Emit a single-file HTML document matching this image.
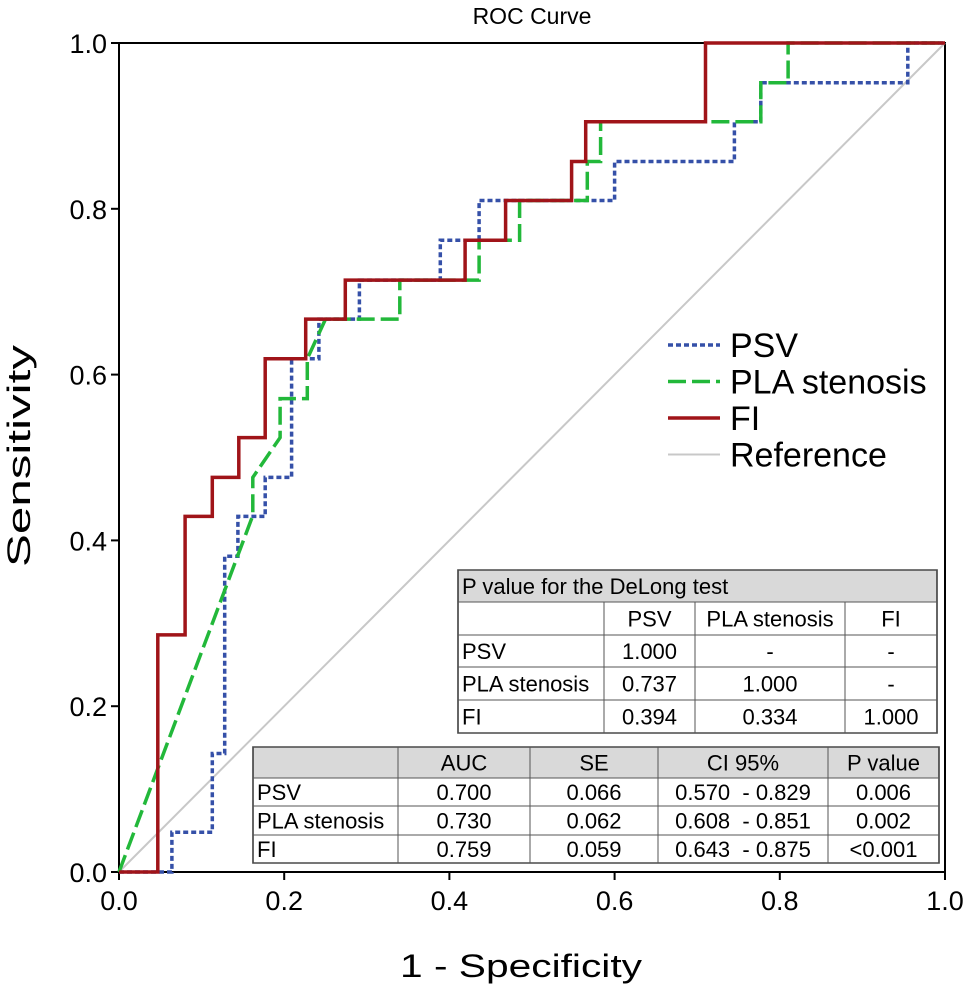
<!DOCTYPE html>
<html><head><meta charset="utf-8"><style>
html,body{margin:0;padding:0;background:#fff;}
svg{display:block;font-family:"Liberation Sans",Arial,sans-serif;}
</style></head><body>
<svg id="chart" width="971" height="988" viewBox="0 0 971 988">
<text x="532" y="24" font-size="23" text-anchor="middle">ROC Curve</text>
<g id="axes"></g>
<g id="series"></g>
<g id="legend"></g>
<g id="tables"></g>
<text x="521" y="977" font-size="32" text-anchor="middle" textLength="242" lengthAdjust="spacingAndGlyphs">1 - Specificity</text>
<text transform="translate(30,456) rotate(-90)" font-size="32" text-anchor="middle" textLength="222" lengthAdjust="spacingAndGlyphs">Sensitivity</text>
</svg>
<script>
const xTicks=[0,0.2,0.4,0.6,0.8,1.0];
const yTicks=[0,0.2,0.4,0.6,0.8,1.0];
const tickLabels=["0.0","0.2","0.4","0.6","0.8","1.0"];
const psvX=[0,0.064,0.064,0.113,0.113,0.128,0.128,0.144,0.144,0.177,0.177,0.209,0.209,0.242,0.242,0.291,0.291,0.389,0.389,0.436,0.436,0.6,0.6,0.745,0.745,0.777,0.777,0.955,0.955,1];
const psvY=[0,0,0.048,0.048,0.143,0.143,0.381,0.381,0.429,0.429,0.476,0.476,0.619,0.619,0.667,0.667,0.714,0.714,0.762,0.762,0.81,0.81,0.857,0.857,0.905,0.905,0.952,0.952,1,1];
const plaX=[0,0.162,0.162,0.195,0.195,0.228,0.228,0.25,0.34,0.34,0.436,0.436,0.485,0.485,0.567,0.567,0.583,0.583,0.777,0.777,0.81,0.81,1];
const plaY=[0,0.43,0.476,0.524,0.571,0.571,0.619,0.667,0.667,0.714,0.714,0.762,0.762,0.81,0.81,0.857,0.857,0.905,0.905,0.952,0.952,1,1];
const fiX=[0,0.047,0.047,0.08,0.08,0.113,0.113,0.145,0.145,0.177,0.177,0.226,0.226,0.274,0.274,0.419,0.419,0.468,0.468,0.548,0.548,0.565,0.565,0.71,0.71,1];
const fiY=[0,0,0.286,0.286,0.429,0.429,0.476,0.476,0.524,0.524,0.619,0.619,0.667,0.667,0.714,0.714,0.762,0.762,0.81,0.81,0.857,0.857,0.905,0.905,1,1];
const refX=[0,1], refY=[0,1];
const legendLabels=["PSV","PLA stenosis","FI","Reference"];
const t1Rows=[["","PSV","PLA stenosis","FI"],["PSV","1.000","-","-"],["PLA stenosis","0.737","1.000","-"],["FI","0.394","0.334","1.000"]];
const t2Rows=[["","AUC","SE","CI 95%","P value"],["PSV","0.700","0.066","0.570  - 0.829","0.006"],["PLA stenosis","0.730","0.062","0.608  - 0.851","0.002"],["FI","0.759","0.059","0.643  - 0.875","<0.001"]];

const NS="http://www.w3.org/2000/svg";
const X0=119,X1=945,Y0=872,Y1=43;
const sx=v=>X0+(X1-X0)*v, sy=v=>Y0-(Y0-Y1)*v;
function mk(tag,attrs,parent,text){const e=document.createElementNS(NS,tag);for(const k in attrs)e.setAttribute(k,attrs[k]);if(text!==undefined)e.textContent=text;parent.appendChild(e);return e;}
const axes=document.getElementById('axes');
let fr=mk('rect',{x:X0,y:Y1,width:X1-X0,height:Y0-Y1,fill:'none',stroke:'#000','stroke-width':2},axes);


xTicks.forEach((v,i)=>{
 let l=mk('line',{x1:sx(v),x2:sx(v),y1:Y0,y2:Y0+8,stroke:'#000','stroke-width':2},axes);
 
 
 let t=mk('text',{x:sx(v),y:Y0+38,'font-size':27,'text-anchor':'middle'},axes,tickLabels[i]);
 
 
});
yTicks.forEach((v,i)=>{
 let l=mk('line',{x1:X0-8,x2:X0,y1:sy(v),y2:sy(v),stroke:'#000','stroke-width':2},axes);
 
 
 let t=mk('text',{x:X0-12,y:sy(v)+10,'font-size':27,'text-anchor':'end'},axes,tickLabels[i]);
 
 
});
const ser=document.getElementById('series');
function line(xs,ys,st,name){
 const d=xs.map((x,i)=>(i?'L':'M')+sx(x).toFixed(1)+' '+sy(ys[i]).toFixed(1)).join(' ');
 const p=mk('path',Object.assign({d:d,fill:'none'},st),ser);
 
 
}
const styles=[{stroke:'#3550a8','stroke-width':3.5,'stroke-dasharray':'5 3'},{stroke:'#22b83a','stroke-width':3.5,'stroke-dasharray':'18 6'},{stroke:'#a01419','stroke-width':3.5},{stroke:'#c8c8c8','stroke-width':2}];
line(refX,refY,styles[3],'reference-line');
line(psvX,psvY,styles[0],'psv-curve');
line(plaX,plaY,styles[1],'pla-stenosis-curve');
line(fiX,fiY,styles[2],'fi-curve');
const lg=document.getElementById('legend');
legendLabels.forEach((lab,i)=>{
 const y=345+i*36.5;
 let l=mk('line',Object.assign({x1:668,x2:720,y1:y,y2:y},styles[i]),lg);
 
 
 let t=mk('text',{x:730,y:y+12,'font-size':34},lg,lab);
 
 
});
const tg=document.getElementById('tables');
function table(cols,rows,data,title,name){
 const g=mk('g',{},tg);
 
 
 const x0=cols[0],x1=cols[cols.length-1];
 mk('rect',{x:x0,y:rows[0],width:x1-x0,height:rows[1]-rows[0],fill:'#d9d9d9'},g);
 mk('rect',{x:x0,y:rows[0],width:x1-x0,height:rows[rows.length-1]-rows[0],fill:'none',stroke:'#333','stroke-width':1.5},g);
 rows.forEach(r=>mk('line',{x1:x0,x2:x1,y1:r,y2:r,stroke:'#555','stroke-width':1},g));
 const start=title?1:0;
 cols.forEach((c,i)=>{if(i>0&&i<cols.length-1)mk('line',{x1:c,x2:c,y1:rows[start],y2:rows[rows.length-1],stroke:'#555','stroke-width':1},g);});
 if(title){mk('text',{x:x0+4,y:rows[0]+24,'font-size':22},g,title);}
 data.forEach((row,ri)=>{
  const r0=rows[ri+start],r1=rows[ri+start+1];
  row.forEach((cell,ci)=>{
   if(!cell)return;
   const a=ci===0;
   const x=a?cols[0]+4:(cols[ci]+cols[ci+1])/2;
   const t=mk('text',{x:x,y:(r0+r1)/2+8,'font-size':22,'text-anchor':a?'start':'middle'},g,cell);
   t.style.whiteSpace='pre';
  });
 });
}
table([458,604,695,845,937],[570,602,635,667,700,733],t1Rows,'P value for the DeLong test','delong-table');
table([253,398,530,658,828,939],[747,778,806,835,863],t2Rows,null,'auc-table');
</script>
</body></html>
